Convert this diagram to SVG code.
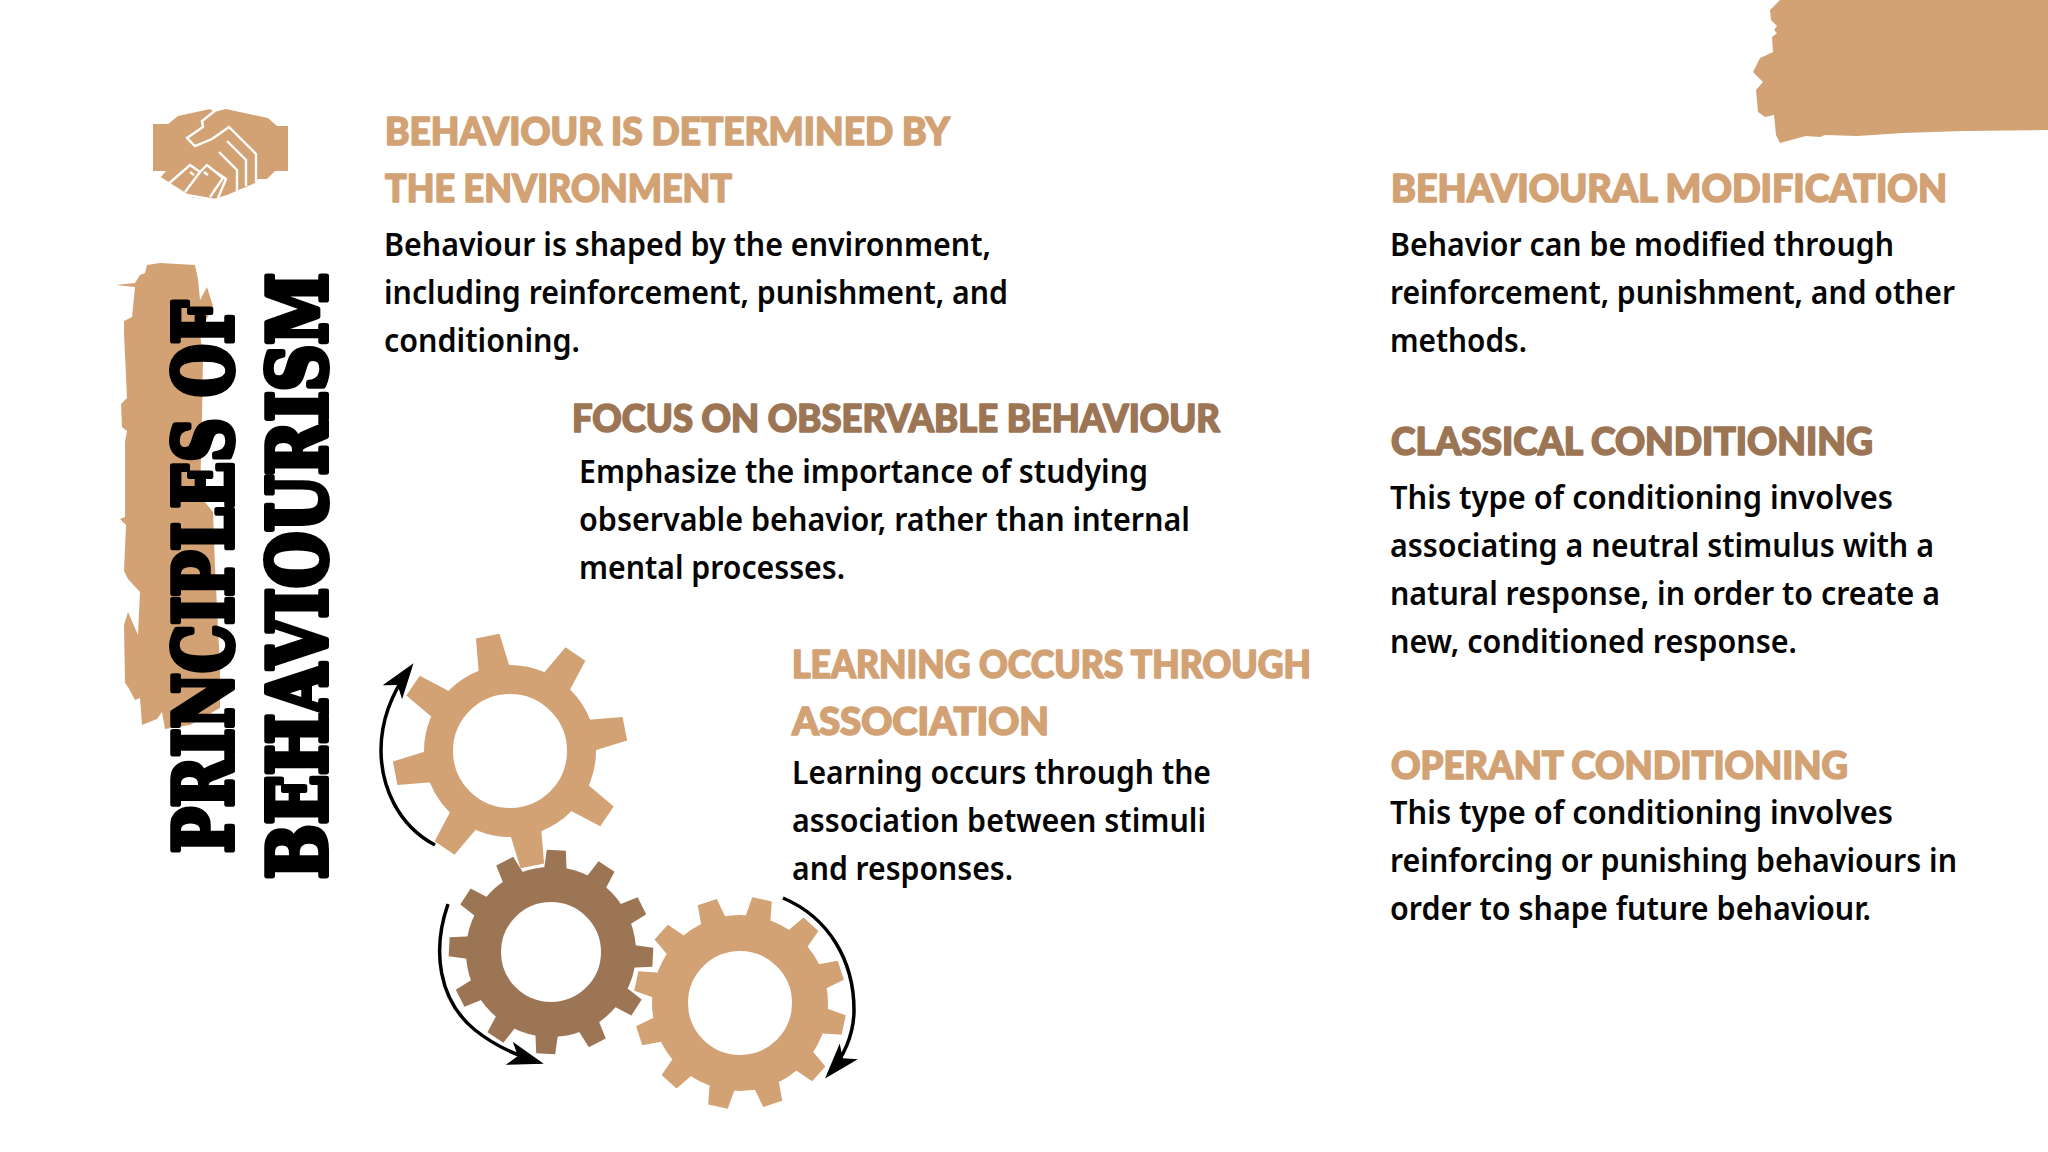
<svg xmlns="http://www.w3.org/2000/svg" xmlns:xlink="http://www.w3.org/1999/xlink" width="2048" height="1152" viewBox="0 0 2048 1152">
<style>
.h{font-family:"Lato","Liberation Sans",sans-serif;font-weight:900;font-size:38px;stroke-width:1.600px;stroke-linejoin:round}
.tan{fill:#d2a274;stroke:#d2a274}
.dark{fill:#9c7555;stroke:#9c7555}
.b{font-family:"Noto Sans","Open Sans",sans-serif;font-weight:600;font-size:32px;fill:#050505}
.t{font-family:"DejaVu Serif","Liberation Serif",serif;font-weight:700;font-size:80px;fill:#000;stroke:#000;stroke-width:6px;stroke-linejoin:round}
.arc{fill:none;stroke:#000;stroke-width:3.500px;marker-end:url(#head)}
.hl{fill:none;stroke:#fff;stroke-width:2.400px;stroke-linejoin:miter}
</style>
<defs>
<marker id="head" markerUnits="userSpaceOnUse" viewBox="0 -12 36 24" refX="30" refY="0" markerWidth="36" markerHeight="24" orient="auto"><path d="M36 0L0-12L9 0L0 12Z" fill="#000"/></marker>
<polygon id="t1" points="-16,-80 16,-80 12,-117 -12,-117"/>
<polygon id="t2" points="-11.500,-80 11.500,-80 9.500,-102 -9.500,-102"/>
<polygon id="t3" points="-13,-84 13,-84 10,-106 -10,-106"/>
</defs>
<rect width="2048" height="1152" fill="#fff"/>

<polygon id="brush-top" fill="#d2a274" points="1780,0 1770,10 1771,20 1777,26 1774,30 1777,33 1772,37 1773,52 1760,58 1753,72 1763,82 1756,90 1758,112 1765,117 1774,115 1776,135 1780,143 1802,137 1806,136 1820,137 1825,135 1857,136 1903,133 1963,131 2048,130 2048,0"/>
<polygon id="brush-left" fill="#d2a274" points="147,265 160,263 195,265 198,279 200,300 207,287 213,306 200,333 203,358 202,417 200,496 213,512 215,567 220,667 220,708 190,725 165,729 162,712 157,719 142,725 140,698 135,700 128,687 125,683 124,625 128,612 138,635 140,592 128,579 124,571 126,525 120,519 125,517 125,442 127,431 122,427 121,404 127,398 124,333 124,321 132,317 135,287 116,285 135,283 140,275 145,273"/>

<g id="title">
<text class="t" transform="translate(232,853) rotate(-90)" textLength="552" lengthAdjust="spacingAndGlyphs">PRINCIPLES OF</text>
<text class="t" transform="translate(326,879) rotate(-90)" textLength="606" lengthAdjust="spacingAndGlyphs">BEHAVIOURISM</text>
</g>

<g id="handshake">
<polygon fill="#d2a274" points="153,124 168,124 178,116 210,109 214,112 226,109 268,118 277,126 288,126 288,171 275,171 267,179 258,179 255,183 227,195 210,200 190,197 160,178 166,171 153,171"/>
<path class="hl" d="M216 110L202 121L203 127L187 138L195 146L212 139L229 127L256 154V182M227 141L246 160V186M219 152L237 170V193"/>
<path class="hl" d="M160 178L190 197M166 186L190 165L200 172L185 192M200 172L207 165L223 178L210 197M216 172L226 179L218 198M176 193L220 201"/>
<path class="hl" d="M190 172l4 3M204 172l4 3"/>
</g>

<g id="gear-1" fill="#d2a274">
<circle cx="510" cy="751" r="71.500" fill="none" stroke="#d2a274" stroke-width="29"/>
<use xlink:href="#t1" href="#t1" transform="translate(510,751) rotate(-11)"/>
<use xlink:href="#t1" href="#t1" transform="translate(510,751) rotate(34)"/>
<use xlink:href="#t1" href="#t1" transform="translate(510,751) rotate(79)"/>
<use xlink:href="#t1" href="#t1" transform="translate(510,751) rotate(124)"/>
<use xlink:href="#t1" href="#t1" transform="translate(510,751) rotate(169)"/>
<use xlink:href="#t1" href="#t1" transform="translate(510,751) rotate(214)"/>
<use xlink:href="#t1" href="#t1" transform="translate(510,751) rotate(259)"/>
<use xlink:href="#t1" href="#t1" transform="translate(510,751) rotate(304)"/>
</g>
<g id="gear-2" fill="#9c7555">
<circle cx="551" cy="952" r="67.500" fill="none" stroke="#9c7555" stroke-width="35"/>
<use xlink:href="#t2" href="#t2" transform="translate(551,952) rotate(3)"/>
<use xlink:href="#t2" href="#t2" transform="translate(551,952) rotate(33)"/>
<use xlink:href="#t2" href="#t2" transform="translate(551,952) rotate(63)"/>
<use xlink:href="#t2" href="#t2" transform="translate(551,952) rotate(93)"/>
<use xlink:href="#t2" href="#t2" transform="translate(551,952) rotate(123)"/>
<use xlink:href="#t2" href="#t2" transform="translate(551,952) rotate(153)"/>
<use xlink:href="#t2" href="#t2" transform="translate(551,952) rotate(183)"/>
<use xlink:href="#t2" href="#t2" transform="translate(551,952) rotate(213)"/>
<use xlink:href="#t2" href="#t2" transform="translate(551,952) rotate(243)"/>
<use xlink:href="#t2" href="#t2" transform="translate(551,952) rotate(273)"/>
<use xlink:href="#t2" href="#t2" transform="translate(551,952) rotate(303)"/>
<use xlink:href="#t2" href="#t2" transform="translate(551,952) rotate(333)"/>
</g>
<g id="gear-3" fill="#d2a274">
<circle cx="740" cy="1003" r="70" fill="none" stroke="#d2a274" stroke-width="36"/>
<use xlink:href="#t3" href="#t3" transform="translate(740,1003) rotate(12)"/>
<use xlink:href="#t3" href="#t3" transform="translate(740,1003) rotate(42)"/>
<use xlink:href="#t3" href="#t3" transform="translate(740,1003) rotate(72)"/>
<use xlink:href="#t3" href="#t3" transform="translate(740,1003) rotate(102)"/>
<use xlink:href="#t3" href="#t3" transform="translate(740,1003) rotate(132)"/>
<use xlink:href="#t3" href="#t3" transform="translate(740,1003) rotate(162)"/>
<use xlink:href="#t3" href="#t3" transform="translate(740,1003) rotate(192)"/>
<use xlink:href="#t3" href="#t3" transform="translate(740,1003) rotate(222)"/>
<use xlink:href="#t3" href="#t3" transform="translate(740,1003) rotate(252)"/>
<use xlink:href="#t3" href="#t3" transform="translate(740,1003) rotate(282)"/>
<use xlink:href="#t3" href="#t3" transform="translate(740,1003) rotate(312)"/>
<use xlink:href="#t3" href="#t3" transform="translate(740,1003) rotate(342)"/>
</g>

<g id="connectors">
<path class="arc" d="M435 845C397 825 381 785 381 750C381 718 394 690 410 668"/>
<path class="arc" d="M448 904C432 950 438 1000 475 1030C495 1046 515 1055 538 1062"/>
<path class="arc" d="M783 898C830 918 854 962 854 1010C854 1035 843 1058 829 1074"/>
</g>

<g id="block-environment">
<text class="h tan" x="385" y="145" textLength="565" lengthAdjust="spacingAndGlyphs">BEHAVIOUR IS DETERMINED BY</text>
<text class="h tan" x="385" y="202" textLength="347" lengthAdjust="spacingAndGlyphs">THE ENVIRONMENT</text>
<text class="b" x="384" y="256" textLength="607" lengthAdjust="spacingAndGlyphs">Behaviour is shaped by the environment,</text>
<text class="b" x="384" y="304" textLength="624" lengthAdjust="spacingAndGlyphs">including reinforcement, punishment, and</text>
<text class="b" x="384" y="352" textLength="196" lengthAdjust="spacingAndGlyphs">conditioning.</text>
</g>
<g id="block-observable">
<text class="h dark" x="572" y="432" textLength="648" lengthAdjust="spacingAndGlyphs">FOCUS ON OBSERVABLE BEHAVIOUR</text>
<text class="b" x="579" y="483" textLength="569" lengthAdjust="spacingAndGlyphs">Emphasize the importance of studying</text>
<text class="b" x="579" y="531" textLength="611" lengthAdjust="spacingAndGlyphs">observable behavior, rather than internal</text>
<text class="b" x="579" y="579" textLength="266" lengthAdjust="spacingAndGlyphs">mental processes.</text>
</g>
<g id="block-association">
<text class="h tan" x="792" y="678" textLength="519" lengthAdjust="spacingAndGlyphs">LEARNING OCCURS THROUGH</text>
<text class="h tan" x="792" y="735" textLength="257" lengthAdjust="spacingAndGlyphs">ASSOCIATION</text>
<text class="b" x="792" y="784" textLength="419" lengthAdjust="spacingAndGlyphs">Learning occurs through the</text>
<text class="b" x="792" y="832" textLength="414" lengthAdjust="spacingAndGlyphs">association between stimuli</text>
<text class="b" x="792" y="880" textLength="221" lengthAdjust="spacingAndGlyphs">and responses.</text>
</g>
<g id="block-modification">
<text class="h tan" x="1391" y="202" textLength="556" lengthAdjust="spacingAndGlyphs">BEHAVIOURAL MODIFICATION</text>
<text class="b" x="1390" y="256" textLength="504" lengthAdjust="spacingAndGlyphs">Behavior can be modified through</text>
<text class="b" x="1390" y="304" textLength="565" lengthAdjust="spacingAndGlyphs">reinforcement, punishment, and other</text>
<text class="b" x="1390" y="352" textLength="137" lengthAdjust="spacingAndGlyphs">methods.</text>
</g>
<g id="block-classical">
<text class="h dark" x="1391" y="455" textLength="482" lengthAdjust="spacingAndGlyphs">CLASSICAL CONDITIONING</text>
<text class="b" x="1390" y="509" textLength="503" lengthAdjust="spacingAndGlyphs">This type of conditioning involves</text>
<text class="b" x="1390" y="557" textLength="544" lengthAdjust="spacingAndGlyphs">associating a neutral stimulus with a</text>
<text class="b" x="1390" y="605" textLength="550" lengthAdjust="spacingAndGlyphs">natural response, in order to create a</text>
<text class="b" x="1390" y="653" textLength="407" lengthAdjust="spacingAndGlyphs">new, conditioned response.</text>
</g>
<g id="block-operant">
<text class="h tan" x="1391" y="779" textLength="457" lengthAdjust="spacingAndGlyphs">OPERANT CONDITIONING</text>
<text class="b" x="1390" y="824" textLength="503" lengthAdjust="spacingAndGlyphs">This type of conditioning involves</text>
<text class="b" x="1390" y="872" textLength="567" lengthAdjust="spacingAndGlyphs">reinforcing or punishing behaviours in</text>
<text class="b" x="1390" y="920" textLength="481" lengthAdjust="spacingAndGlyphs">order to shape future behaviour.</text>
</g>
</svg>
